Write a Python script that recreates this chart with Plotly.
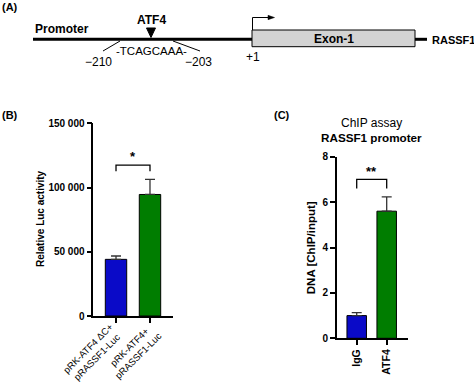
import plotly.graph_objects as go

W, H = 474, 383

# ---- data ----
luc_categories = ["pRK-ATF4 ΔC+<br>pRASSF1-Luc", "pRK-ATF4+<br>pRASSF1-Luc"]
luc_values = [44100, 94600]
luc_errors = [2600, 11700]
luc_ticks = [0, 50000, 100000, 150000]
luc_ticktext = ["0", "50 000", "100 000", "150 000"]

chip_categories = ["IgG", "ATF4"]
chip_values = [1.0, 5.6]
chip_errors = [0.13, 0.63]
chip_ticks = [0, 2, 4, 6, 8]

bar_colors = ["#0a0ac8", "#007d00"]

FONT = "Arial, Liberation Sans, sans-serif"

def px(x):
    return x / W

def py(y):
    return 1 - y / H

fig = go.Figure()

fig.add_trace(go.Bar(
    x=luc_categories, y=luc_values, width=0.63,
    marker=dict(color=bar_colors, line=dict(color="black", width=1)),
    error_y=dict(type="data", array=luc_errors, arrayminus=[0, 0], symmetric=False,
                 color="#333333", thickness=1.3, width=5),
    xaxis="x", yaxis="y", showlegend=False))

fig.add_trace(go.Bar(
    x=chip_categories, y=chip_values, width=0.65,
    marker=dict(color=bar_colors, line=dict(color="black", width=1)),
    error_y=dict(type="data", array=chip_errors, arrayminus=[0, 0], symmetric=False,
                 color="#333333", thickness=1.3, width=5),
    xaxis="x2", yaxis="y2", showlegend=False))

axis_common = dict(showline=True, linecolor="black", linewidth=1.5, ticks="outside",
                   ticklen=5, tickwidth=1.5, tickcolor="black", showgrid=False,
                   zeroline=False, fixedrange=True, automargin=False)

fig.update_layout(
    width=W, height=H, margin=dict(l=0, r=0, t=0, b=0, autoexpand=False),
    paper_bgcolor="white", plot_bgcolor="white", showlegend=False,
    font=dict(family=FONT, color="black", size=10),
    xaxis=dict(domain=[px(93.3), px(172.7)], range=[-0.668, 1.668], anchor="y",
               showticklabels=False, **axis_common),
    yaxis=dict(domain=[py(316), py(123.3)], range=[0, 150000], anchor="x",
               tickvals=luc_ticks, ticktext=["<b>%s</b>" % t for t in luc_ticktext],
               tickfont=dict(size=10), **axis_common),
    xaxis2=dict(domain=[px(336.7), px(408.3)], range=[-0.667, 1.72], anchor="y2",
                tickangle=-90, tickvals=chip_categories,
                ticktext=["<b>%s</b>" % c for c in chip_categories],
                tickfont=dict(size=10.5), **axis_common),
    yaxis2=dict(domain=[py(338.3), py(156.7)], range=[0, 8], anchor="x2",
                tickvals=chip_ticks, ticktext=["<b>%d</b>" % t for t in chip_ticks],
                tickfont=dict(size=10), **axis_common),
)

shapes = []
annos = []

def line(x0, y0, x1, y1, w=1, color="black"):
    shapes.append(dict(type="line", xref="paper", yref="paper",
                       x0=px(x0), y0=py(y0), x1=px(x1), y1=py(y1),
                       line=dict(color=color, width=w)))

def text(x, y, s, size=11, xanchor="center", angle=0, bold=False, align="center"):
    annos.append(dict(xref="paper", yref="paper", x=px(x), y=py(y), text=("<b>%s</b>" % s) if bold else s,
                      showarrow=False, xanchor=xanchor, yanchor="middle", textangle=angle, align=align,
                      font=dict(size=size, family=FONT, color="black")))

# ---- panel A diagram ----
line(33, 39.3, 252, 39.3, w=3)
shapes.append(dict(type="rect", xref="paper", yref="paper", x0=px(252), x1=px(415),
                   y0=py(46.7), y1=py(30), fillcolor="#d3d3d3", line=dict(color="black", width=1)))
line(415, 39.3, 427, 39.3, w=3)
shapes.append(dict(type="path", xref="paper", yref="paper",
                   path="M %f %f L %f %f L %f %f Z" % (px(146.5), py(28), px(155.5), py(28), px(151), py(37.5)),
                   fillcolor="black", line=dict(color="black", width=1)))
line(120, 41, 103, 51)
line(173, 41, 200, 51)
line(252.5, 30, 252.5, 17.5)
line(252.5, 17.5, 270, 17.5)
shapes.append(dict(type="path", xref="paper", yref="paper",
                   path="M %f %f L %f %f L %f %f Z" % (px(268), py(15.3), px(274.5), py(17.5), px(268), py(19.7)),
                   fillcolor="black", line=dict(color="black", width=0.5)))

text(0, 7, "(A)", size=11, xanchor="left", bold=True)
text(33, 29, "Promoter", size=12, xanchor="left", bold=True)
text(151, 20, "ATF4", size=12, bold=True)
text(151, 50.5, "-TCAGCAAA-", size=11.5)
text(98, 62, "\u2212210", size=12)
text(198, 62, "\u2212203", size=12)
text(253, 57, "+1", size=12)
text(333.5, 39, "Exon-1", size=12, bold=True)
text(429.5, 39.5, "RASSF1", size=11, xanchor="left", bold=True)

# ---- panel B ----
text(0, 115, "(B)", size=11, xanchor="left", bold=True)
text(40, 219, "Relative Luc activity", size=10, angle=-90, bold=True)
# rotated category labels
for (cx, cy), lab in zip([(92, 352), (133, 351)], luc_categories):
    text(cx, cy, lab, size=9.5, angle=-45, align="center")
shapes.append(dict(type="path", xref="x", yref="y",
                   path="M 0 112700 L 0 117400 L 1 117400 L 1 112700",
                   line=dict(color="black", width=1.3)))
annos.append(dict(xref="x", yref="y", x=0.5, y=124500, text="<b>*</b>", showarrow=False,
                  font=dict(size=13, family=FONT, color="black")))

# ---- panel C ----
text(272, 115, "(C)", size=11, xanchor="left", bold=True)
text(371.5, 123.3, "ChIP assay", size=12)
text(371.5, 137, "RASSF1 promoter", size=11.7, bold=True)
text(311.7, 247.5, "DNA [ChIP/input]", size=11.5, angle=-90, bold=True)
shapes.append(dict(type="path", xref="x2", yref="y2",
                   path="M 0 6.6 L 0 7.0 L 1 7.0 L 1 6.6",
                   line=dict(color="black", width=1.3)))
annos.append(dict(xref="x2", yref="y2", x=0.5, y=7.35, text="<b>**</b>", showarrow=False,
                  font=dict(size=13, family=FONT, color="black")))

fig.update_layout(shapes=shapes, annotations=annos)
fig.write_html("out.html", config={"displayModeBar": False},
               post_script="document.body.style.margin='0px';")
